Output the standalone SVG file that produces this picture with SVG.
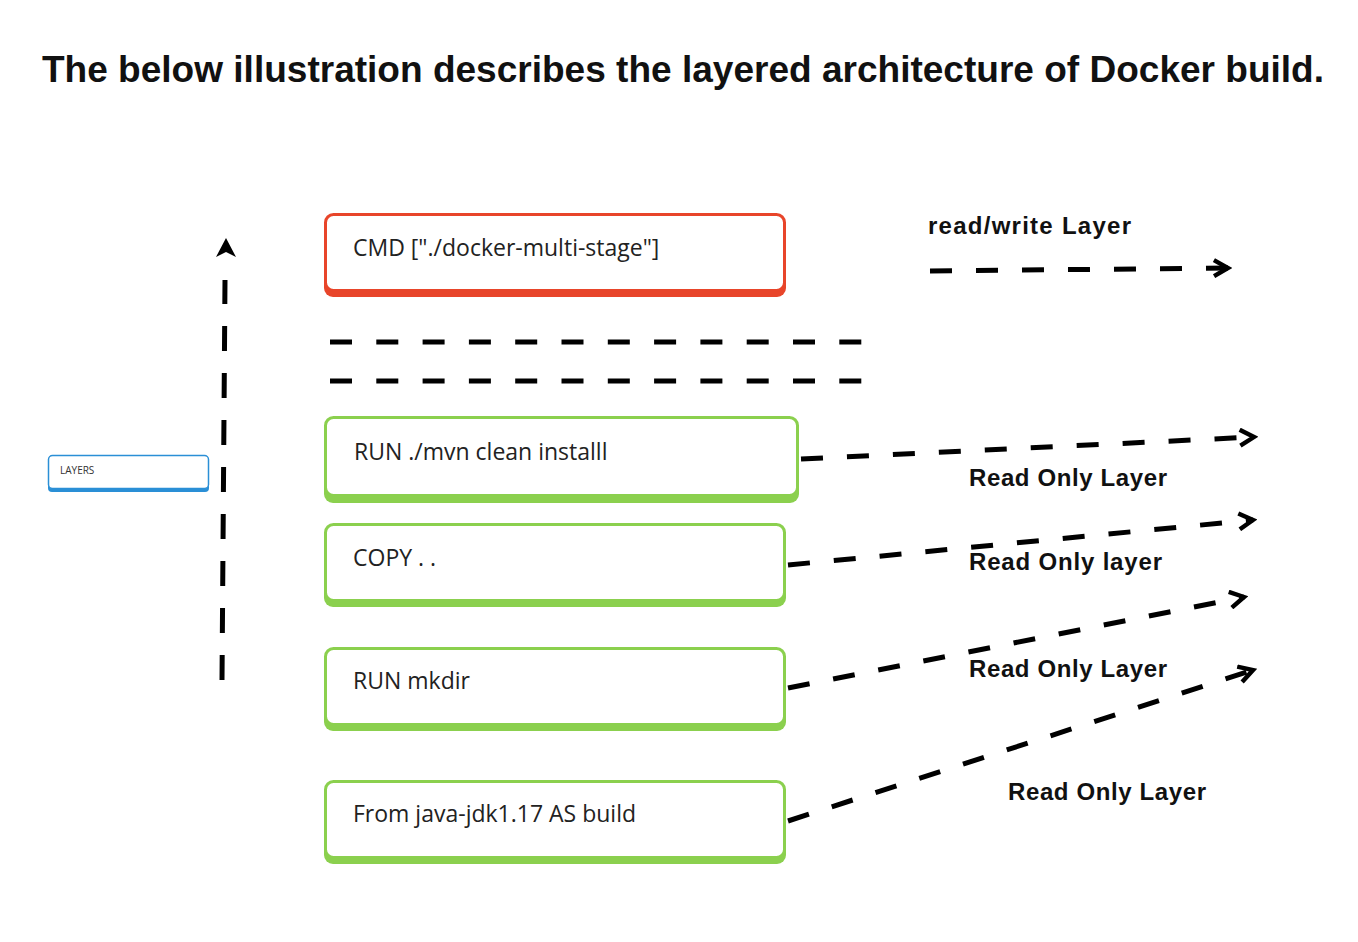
<svg xmlns="http://www.w3.org/2000/svg" width="1358" height="942" viewBox="0 0 1358 942">
<defs>
<style>
.t{font-family:"Liberation Sans",Arial,sans-serif;font-weight:bold;fill:#111}
.lbl{font-family:"Open Sans","Liberation Sans",sans-serif;font-size:23px;fill:#222}
.ro{font-family:"Liberation Sans",Arial,sans-serif;font-weight:bold;font-size:24px;fill:#111}
.d{stroke:#000;stroke-width:5;stroke-dasharray:22 24;fill:none}
</style>
<marker id="ah" viewBox="0 0 10 10" refX="8" refY="5" markerWidth="4" markerHeight="4" orient="auto" markerUnits="strokeWidth">
<path d="M1,1 L8,5 L1,9" fill="none" stroke="#000" stroke-width="2.2"/>
</marker>
</defs>
<rect width="1358" height="942" fill="#fff"/>
<text class="t" x="42" y="82" font-size="36" textLength="1282" lengthAdjust="spacingAndGlyphs">The below illustration describes the layered architecture of Docker build.</text>
<g id="cmd"><rect x="324" y="219" width="462" height="78" rx="9" fill="#e8452a"/><rect x="325.5" y="214.5" width="459" height="76" rx="8" fill="#fff" stroke="#e8452a" stroke-width="3"/><text class="lbl" x="353" y="256">CMD ["./docker-multi-stage"]</text></g>
<g id="run-mvn"><rect x="324" y="424" width="475" height="79" rx="9" fill="#8bd04e"/><rect x="325.5" y="417.5" width="472" height="78" rx="8" fill="#fff" stroke="#8bd04e" stroke-width="3"/><text class="lbl" x="354" y="460">RUN ./mvn clean installl</text></g>
<g id="copy"><rect x="324" y="530" width="462" height="77" rx="9" fill="#8bd04e"/><rect x="325.5" y="524.5" width="459" height="76" rx="8" fill="#fff" stroke="#8bd04e" stroke-width="3"/><text class="lbl" x="353" y="566">COPY . .</text></g>
<g id="run-mkdir"><rect x="324" y="654" width="462" height="77" rx="9" fill="#8bd04e"/><rect x="325.5" y="648.5" width="459" height="76" rx="8" fill="#fff" stroke="#8bd04e" stroke-width="3"/><text class="lbl" x="353" y="689">RUN mkdir</text></g>
<g id="from"><rect x="324" y="787" width="462" height="77" rx="9" fill="#8bd04e"/><rect x="325.5" y="781.5" width="459" height="76" rx="8" fill="#fff" stroke="#8bd04e" stroke-width="3"/><text class="lbl" x="353" y="822">From java-jdk1.17 AS build</text></g>
<g id="layers"><rect x="48" y="458" width="161" height="34" rx="4" fill="#2a8fd6"/><rect x="48.5" y="455.5" width="160" height="33" rx="4" fill="#fff" stroke="#2a8fd6" stroke-width="1.5"/><text x="60" y="474" font-family="'Open Sans','Liberation Sans',sans-serif" font-size="10" fill="#333">LAYERS</text></g>
<g id="connectors">
<path class="d" d="M222,680 L225,280" style="stroke-dasharray:25 22"/>
<path d="M216,257 L226,238 L236,257 L226,252 Z" fill="#000"/>
<path class="d" d="M330,342 H874" style="stroke-dasharray:22 24.3"/>
<path class="d" d="M330,381 H874" style="stroke-dasharray:22 24.3"/>
<path class="d" d="M930,271 L1228,268" marker-end="url(#ah)"/>
<path class="d" d="M801,459 L1254,437" marker-end="url(#ah)"/>
<path class="d" d="M788,565 L1253,520" marker-end="url(#ah)"/>
<path class="d" d="M788,688 L1244,597" marker-end="url(#ah)"/>
<path class="d" d="M788,821 L1253,670" marker-end="url(#ah)"/>
</g>
<text class="ro" x="928" y="234" textLength="203">read/write Layer</text>
<text class="ro" x="969" y="486" textLength="198">Read Only Layer</text>
<text class="ro" x="969" y="570" textLength="193">Read Only layer</text>
<text class="ro" x="969" y="677" textLength="198">Read Only Layer</text>
<text class="ro" x="1008" y="800" textLength="198">Read Only Layer</text>
</svg>
